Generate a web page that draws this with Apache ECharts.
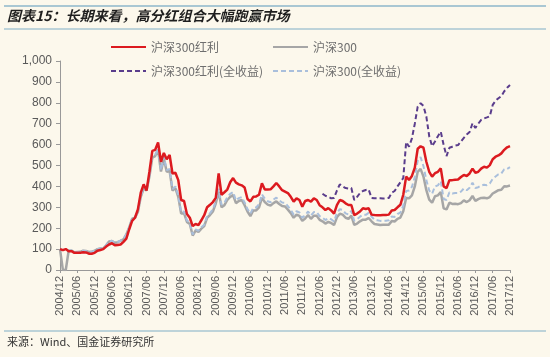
<!DOCTYPE html>
<html>
<head>
<meta charset="utf-8">
<script src="https://cdn.jsdelivr.net/npm/echarts@6/dist/echarts.min.js"></script>
<style>
html,body{margin:0;padding:0;background:#fcf8ec;}
#chart{width:550px;height:357px;}
</style>
</head>
<body>
<div id="chart"></div>
<script>
// ---- categories: month ends 2004/12 .. 2017/12 ----
const startYear = 2004, startMonth = 12, endYear = 2017, endMonth = 12;
const categories = [];
for (let y = startYear, m = startMonth; y < endYear || (y === endYear && m <= endMonth); ) {
  categories.push(y + '/' + (m < 10 ? '0' + m : m));
  m++; if (m > 12) { m = 1; y++; }
}

const seriesNames = ['沪深300红利', '沪深300', '沪深300红利(全收益)', '沪深300(全收益)'];
const yTicks = [0, 100, 200, 300, 400, 500, 600, 700, 800, 900, 1000];

// 沪深300红利
const divIndex = [
  100,
  95, 100, 90, 90, 82, 82, 82, 85, 84, 78, 78, 82,
  92, 96, 100, 112, 122, 128, 118, 120, 122, 135, 150, 195,
  235, 250, 290, 370, 410, 380, 470, 570, 575, 610, 518, 560,
  530, 550, 462, 465, 430, 335, 330, 268, 250, 210, 220, 215,
  238, 262, 300, 312, 325, 345, 462, 360, 372, 385, 420, 440,
  418, 410, 405, 395, 340, 328, 350, 352, 360, 415, 385, 385,
  386, 400, 416, 400, 382, 375, 368, 350, 327, 343, 335, 303,
  330, 335, 327, 343, 335, 310, 300, 287, 296, 285, 270, 310,
  335, 330, 319, 311, 311, 263, 270, 280, 295, 292, 295, 265,
  263, 262, 262, 263, 263, 265, 285, 287, 300, 312, 360, 447,
  431, 450, 490, 580, 592, 585, 518, 470, 447, 463, 470, 486,
  400, 392, 430, 430, 432, 433, 445, 455, 450, 462, 485, 465,
  470, 485, 494, 490, 502, 530, 542, 548, 558, 575, 587, 593
];

// 沪深300
const hs300 = [
  100,
  0, 0, 92, 93, 85, 86, 87, 92, 91, 86, 87, 92,
  100, 103, 104, 118, 137, 139, 130, 133, 140, 146, 170, 204,
  245, 250, 278, 350, 390, 380, 447, 538, 545, 575, 471, 534,
  470, 475, 380, 392, 350, 270, 272, 230, 220, 165, 188, 182,
  198, 210, 250, 263, 280, 318, 375, 300, 310, 335, 350, 358,
  320, 330, 335, 310, 280, 258, 285, 285, 300, 345, 325, 313,
  308, 320, 328, 316, 306, 304, 289, 272, 250, 265, 259, 235,
  246, 263, 245, 260, 259, 240, 233, 222, 230, 225, 215, 252,
  269, 265, 250, 245, 260, 216, 222, 233, 241, 241, 249, 233,
  220, 218, 215, 216, 216, 217, 234, 232, 245, 251, 281, 345,
  343, 357, 400, 470, 484, 447, 382, 337, 322, 353, 357, 373,
  295, 290, 322, 316, 317, 315, 320, 333, 325, 334, 354, 331,
  339, 345, 346, 343, 349, 366, 374, 382, 384, 401, 400, 404
];

// 沪深300(全收益)
const hs300Total = [
  100,
  95, 102, 92, 93, 85, 86, 87, 92, 91, 86, 87, 92,
  100, 103, 104, 118, 137, 140, 131, 134, 141, 147, 171, 205,
  246, 251, 280, 352, 393, 384, 452, 545, 552, 583, 478, 542,
  478, 483, 387, 400, 358, 277, 280, 237, 227, 170, 194, 188,
  205, 217, 259, 272, 290, 330, 389, 312, 322, 348, 364, 373,
  333, 344, 349, 323, 292, 270, 298, 299, 315, 362, 341, 329,
  324, 337, 346, 333, 323, 322, 306, 288, 265, 281, 275, 250,
  262, 280, 261, 277, 277, 258, 250, 239, 248, 243, 232, 272,
  291, 287, 271, 266, 283, 236, 243, 255, 264, 264, 273, 256,
  240, 238, 235, 236, 236, 238, 256, 254, 268, 275, 308, 378,
  380, 398, 445, 522, 540, 497, 430, 380, 365, 400, 405, 425,
  340, 335, 372, 366, 368, 368, 375, 390, 382, 394, 418, 392,
  396, 404, 408, 406, 414, 436, 447, 458, 462, 482, 484, 492
];

// 沪深300红利(全收益) — starts 2012/07
const divTotalStart = '2012/07';
const divTotal = [
  365, 355, 350, 343, 345, 380,
  410, 400, 392, 390, 392, 335, 350, 368, 378, 383, 385, 345,
  343, 343, 343, 342, 343, 345, 370, 378, 400, 420, 440, 612,
  590, 630, 700, 782, 798, 785, 734, 640, 592, 615, 640, 662,
  598, 545, 585, 590, 595, 598, 615, 632, 648, 660, 702, 680,
  700, 718, 725, 730, 736, 790, 810, 822, 832, 855, 872, 885
];

const startIdx = categories.indexOf(divTotalStart);
const divTotalFull = categories.map((c, i) => (i < startIdx ? null : divTotal[i - startIdx]));

const colors = ['#dc1a1f', '#a6a6a6', '#5a3d8c', '#a9bfdc'];
const textFont = '"Noto Sans CJK SC", "Liberation Sans", sans-serif';

const chart = echarts.init(document.getElementById('chart'), null, { renderer: 'canvas' });

function legendAt(name, left, top) {
  return {
    data: [name], left: left, top: top, padding: 0,
    itemWidth: 35, itemHeight: 2, itemGap: 0,
    itemStyle: { opacity: 0 },
    textStyle: { color: '#6e6e6e', fontSize: 12, fontFamily: textFont },
    selectedMode: false
  };
}

const option = {
  backgroundColor: '#fcf8ec',
  animation: false,
  legend: [
    legendAt(seriesNames[0], 110, 41),
    legendAt(seriesNames[1], 272, 41),
    legendAt(seriesNames[2], 110, 65),
    legendAt(seriesNames[3], 272, 65)
  ],
  grid: { left: 60, right: 40, top: 61, bottom: 87, containLabel: false },
  xAxis: {
    type: 'category',
    data: categories,
    boundaryGap: false,
    axisLine: { lineStyle: { color: '#999999', width: 1 } },
    axisTick: { interval: 5, length: 3, lineStyle: { color: '#999999' } },
    axisLabel: {
      interval: 5, rotate: 90, color: '#595959', fontSize: 11,
      fontFamily: '"Liberation Sans", Arial, sans-serif', margin: 6
    },
    splitLine: { show: false }
  },
  yAxis: {
    type: 'value',
    min: yTicks[0], max: yTicks[yTicks.length - 1], interval: 100,
    axisLine: { show: true, lineStyle: { color: '#999999', width: 1 } },
    axisTick: { show: true, length: 4, lineStyle: { color: '#999999' } },
    axisLabel: {
      color: '#595959', fontSize: 12, margin: 8,
      fontFamily: '"Liberation Sans", Arial, sans-serif',
      formatter: v => v.toLocaleString('en-US')
    },
    splitLine: { show: false }
  },
  series: [
    { name: seriesNames[1], type: 'line', data: hs300, symbol: 'none', z: 2,
      lineStyle: { color: colors[1], width: 2.5 }, itemStyle: { color: colors[1] } },
    { name: seriesNames[3], type: 'line', data: hs300Total, symbol: 'none', z: 3,
      lineStyle: { color: colors[3], width: 2, type: [5, 3] }, itemStyle: { color: colors[3] } },
    { name: seriesNames[0], type: 'line', data: divIndex, symbol: 'none', z: 4,
      lineStyle: { color: colors[0], width: 2.5 }, itemStyle: { color: colors[0] } },
    { name: seriesNames[2], type: 'line', data: divTotalFull, symbol: 'none', z: 5,
      lineStyle: { color: colors[2], width: 2, type: [5, 3] }, itemStyle: { color: colors[2] } }
  ],
  graphic: [
    { type: 'line', shape: { x1: 4, y1: 6, x2: 546, y2: 6 }, style: { stroke: '#a9c7d3', lineWidth: 2 } },
    { type: 'line', shape: { x1: 4, y1: 29, x2: 546, y2: 29 }, style: { stroke: '#a9c7d3', lineWidth: 1.5 } },
    { type: 'text', left: 7, top: 9,
      style: { text: '图表15：长期来看，高分红组合大幅跑赢市场', fill: '#1e1e1e',
        font: 'italic bold 14px "Noto Sans CJK SC", sans-serif' } },
    { type: 'line', shape: { x1: 4, y1: 331, x2: 546, y2: 331 }, style: { stroke: '#a9c7d3', lineWidth: 1.5 } },
    { type: 'text', left: 7, top: 336,
      style: { text: '来源：Wind、国金证券研究所', fill: '#333333',
        font: '11px "Noto Sans CJK SC", sans-serif' } }
  ]
};
chart.setOption(option);
</script>
</body>
</html>
